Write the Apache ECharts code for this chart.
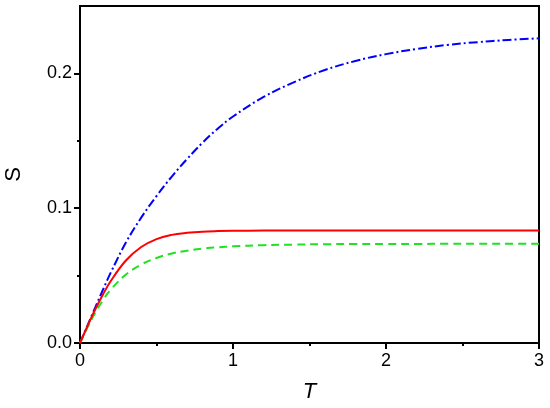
<!DOCTYPE html>
<html>
<head>
<meta charset="utf-8">
<script src="https://cdn.jsdelivr.net/npm/echarts@6/dist/echarts.min.js"></script>
<style>
html,body{margin:0;padding:0;background:#fff;}
#c{width:550px;height:408px;}
</style>
</head>
<body>
<div id="c"></div>
<script>
const T = [0, 0.05, 0.1, 0.15, 0.2, 0.3, 0.4, 0.5, 0.6, 0.7, 0.8, 0.9, 1.0, 1.2, 1.4, 1.6, 1.8, 2.0, 2.2, 2.4, 2.6, 2.8, 3.0];
const redS = [0, 0.0128, 0.0250, 0.0360, 0.0458, 0.0612, 0.0712, 0.0771, 0.0802, 0.0817, 0.0826, 0.0830, 0.0832, 0.0834, 0.0835, 0.0835, 0.0835, 0.0835, 0.0835, 0.0835, 0.0835, 0.0835, 0.0835];
const greenS = [0, 0.0118, 0.0225, 0.0318, 0.0395, 0.0508, 0.0582, 0.0631, 0.0664, 0.0685, 0.0700, 0.0710, 0.0717, 0.0726, 0.0730, 0.0733, 0.0734, 0.0735, 0.0735, 0.0736, 0.0736, 0.0736, 0.0736];
const blueS = [0, 0.0133, 0.0265, 0.0395, 0.0520, 0.0745, 0.0930, 0.1090, 0.1235, 0.1365, 0.1485, 0.1590, 0.1680, 0.1825, 0.1935, 0.2025, 0.2092, 0.2143, 0.2181, 0.2211, 0.2232, 0.2248, 0.2260];
const xTicks = [0, 1, 2, 3];
const yTicks = [0, 0.1, 0.2];
const yMinorTicks = [0.05, 0.15];

const pairs = arr => T.map((t, i) => [t, arr[i]]);
const font = 'Liberation Sans, Arial, sans-serif';

const chart = echarts.init(document.getElementById('c'));
chart.setOption({
  animation: false,
  backgroundColor: '#fff',
  grid: {left: 80, right: 11, top: 6, bottom: 65, outerBoundsMode: 'none', containLabel: false,
         show: true, borderColor: '#000', borderWidth: 2},
  xAxis: {
    type: 'value', min: 0, max: 3, interval: 1,
    name: 'T', nameLocation: 'middle', nameGap: 38,
    nameTextStyle: {fontFamily: font, fontSize: 22, fontStyle: 'italic', color: '#000'},
    axisLine: {lineStyle: {color: '#000', width: 2}},
    axisTick: {length: 6, lineStyle: {width: 2, color: '#000'}, customValues: xTicks},
    minorTick: {show: true, splitNumber: 2, length: 3, lineStyle: {width: 2, color: '#000'}},
    axisLabel: {fontFamily: font, fontSize: 18, color: '#000', margin: 9, customValues: xTicks},
    splitLine: {show: false}
  },
  yAxis: [{
    type: 'value', min: 0, max: 0.25, interval: 0.1,
    name: 'S', nameLocation: 'middle', nameGap: 55, nameRotate: 90,
    nameTextStyle: {fontFamily: font, fontSize: 22, color: '#000'},
    axisLine: {lineStyle: {color: '#000', width: 2}},
    axisTick: {length: 6, lineStyle: {width: 2, color: '#000'}, customValues: yTicks},
    axisLabel: {fontFamily: font, fontSize: 18, color: '#000', margin: 8, customValues: yTicks,
      formatter: v => v.toFixed(1)},
    splitLine: {show: false}
  }, {
    type: 'value', min: 0, max: 0.25, interval: 0.05, position: 'left', offset: 0,
    axisLine: {show: false},
    axisTick: {show: true, length: 3, lineStyle: {width: 2, color: '#000'}, customValues: yMinorTicks},
    axisLabel: {show: false},
    splitLine: {show: false}
  }],
  series: [
    {type: 'line', data: pairs(blueS), showSymbol: false, smooth: 0.4,
     lineStyle: {color: '#0000ff', width: 2, type: [9, 3, 2, 3]}},
    {type: 'line', data: pairs(greenS), showSymbol: false, smooth: 0.4,
     lineStyle: {color: '#22e022', width: 2, type: [8, 5]}},
    {type: 'line', data: pairs(redS), showSymbol: false, smooth: 0.4,
     lineStyle: {color: '#ff0000', width: 2}}
  ]
});
</script>
</body>
</html>
